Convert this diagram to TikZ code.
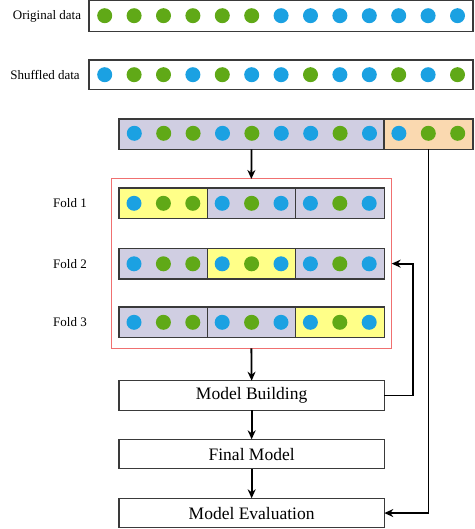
\documentclass[tikz,border=0pt]{standalone}
\usepackage{fontspec}
\setmainfont{Liberation Serif}
\usetikzlibrary{arrows.meta}
\definecolor{cb}{HTML}{1BA1E2}
\definecolor{cg}{HTML}{60A917}
\definecolor{lav}{HTML}{D0CEE2}
\definecolor{peach}{HTML}{FAD9B0}
\definecolor{yel}{HTML}{FFFF88}
\definecolor{redline}{HTML}{F07070}
\definecolor{edge}{HTML}{3A3A3A}
\tikzset{
  seg/.style={draw=edge, line width=1.1pt, anchor=north west, inner sep=0pt, outer sep=0pt},
  dot/.style={circle, inner sep=0pt, minimum size=15pt},
  lbl/.style={font=\fontsize{13}{15}\selectfont, inner sep=0pt},
  stage/.style={seg, fill=white, minimum width=265.3pt, minimum height=29.5pt, font=\fontsize{17.5}{20}\selectfont},
  conn/.style={line width=1.8pt, -{Stealth[length=9pt,width=8pt]}}
}
\begin{document}
\begin{tikzpicture}[x=1pt,y=-1pt]
\useasboundingbox (0,0) rectangle (474,529);
% Original data
\node[seg, minimum width=384pt, minimum height=30.5pt] (orig) at (89,0.6) {};
\node[lbl] (origlbl) at (47,16) {Original data};
\foreach \c [count=\i from 0] in {cg,cg,cg,cg,cg,cg,cb,cb,cb,cb,cb,cb,cb}{
  \node[dot, fill=\c] (o\i) at (104.7+29.4*\i,15.7) {};
}
% Shuffled data
\node[seg, minimum width=384pt, minimum height=29.5pt] (shuf) at (89,60) {};
\node[lbl] (shuflbl) at (45,75) {Shuffled data};
\foreach \c [count=\i from 0] in {cb,cg,cg,cb,cg,cb,cb,cg,cb,cb,cg,cb,cg}{
  \node[dot, fill=\c] (s\i) at (104.7+29.4*\i,74.7) {};
}
% Split row
\node[seg, fill=lav, minimum width=265pt, minimum height=30.3pt] (train) at (119,119) {};
\node[seg, fill=peach, minimum width=89pt, minimum height=30.3pt] (valid) at (384,119) {};
\foreach \c [count=\i from 0] in {cb,cg,cg,cb,cg,cb,cb,cg,cb,cb,cg,cg}{
  \node[dot, fill=\c] (t\i) at (134.3+29.4*\i,133.3) {};
}
% Red box
\node[draw=redline, line width=1pt, anchor=north west, inner sep=0pt, outer sep=0pt, minimum width=280.7pt, minimum height=169.3pt] (red) at (111,179) {};
% Folds
\foreach \f/\y/\ya/\yb/\yc in {1/188/yel/lav/lav, 2/248.5/lav/yel/lav, 3/307/lav/lav/yel}{
  \node[seg, fill=\ya, minimum width=88.3pt, minimum height=30.5pt] (f\f a) at (119,\y) {};
  \node[seg, fill=\yb, minimum width=88.4pt, minimum height=30.5pt] (f\f b) at (207.3,\y) {};
  \node[seg, fill=\yc, minimum width=88.6pt, minimum height=30.5pt] (f\f c) at (295.7,\y) {};
  \node[lbl] (fl\f) at (70,\y+15.3) {Fold \f};
  \foreach \c [count=\i from 0] in {cb,cg,cg,cb,cg,cb,cb,cg,cb}{
    \node[dot, fill=\c] (d\f x\i) at (134+29.4*\i,\y+15.3) {};
  }
}
% Stages
\node[stage] (mb) at (119,380.7) {Model Building};
\node[stage] (fm) at (119,439.3) {Final Model};
\node[stage] (me) at (119,498.3) {Model Evaluation};
% Connectors
\draw[conn] (train.south) -- (red.north);
\draw[conn] (red.south) -- (mb.north);
\draw[conn] (mb.south) -- (fm.north);
\draw[conn] (fm.south) -- (me.north);
\draw[conn] (mb.east) -- ++(29,0) |- (red.east);
\draw[conn] (valid.south) |- (me.east);
\end{tikzpicture}
\end{document}
